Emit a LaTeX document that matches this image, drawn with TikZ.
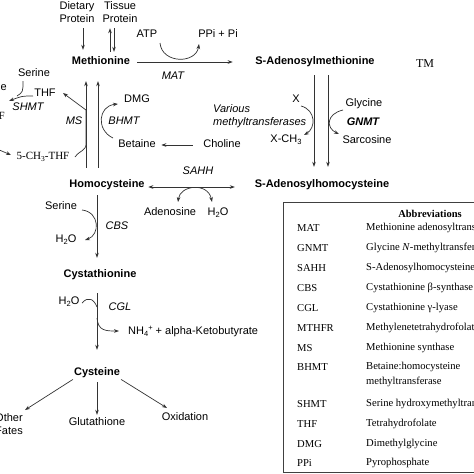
\documentclass[tikz,border=0pt]{standalone}
\usepackage{fontspec}
\setmainfont{Liberation Sans}
\newfontfamily\serifx{Liberation Serif}
\usetikzlibrary{arrows.meta}
\newcommand\lowx[1]{\raisebox{-0.35ex}{\fontsize{7.5}{8}\selectfont #1}}
\newcommand\highx[1]{\raisebox{0.7ex}{\fontsize{7.5}{8}\selectfont #1}}
\begin{document}
\begin{tikzpicture}[x=1pt,y=-1pt,
  lbl/.style={font=\fontsize{11}{13}\selectfont, inner sep=1pt, text height=8pt, text depth=2.5pt},
  two/.style={font=\fontsize{11}{13}\selectfont, inner sep=1pt, align=center},
  cpd/.style={lbl, font=\fontsize{11}{13}\selectfont\bfseries},
  enz/.style={lbl, font=\fontsize{11}{13}\selectfont\itshape},
  ser/.style={lbl, font=\serifx\fontsize{11}{13}\selectfont},
  ln/.style={line width=0.7pt, draw=black!80},
  arr/.style={ln, -{Stealth[length=5pt,width=3.6pt]}},
  darr/.style={ln, {Stealth[length=5pt,width=3.6pt]}-{Stealth[length=5pt,width=3.6pt]}},
  tab/.style={font=\serifx\fontsize{10.6}{12}\selectfont, inner sep=0pt, anchor=west},
]
\useasboundingbox (0,0) rectangle (474,474);

% nodes
\node[two] (diet) at (77,12) {Dietary\\Protein};
\node[two] (tis) at (120,12) {Tissue\\Protein};
\node[cpd] (met) at (101,62) {Methionine};
\node[lbl] (atp) at (147,35) {ATP};
\node[lbl] (ppi) at (218,35) {PPi + Pi};
\node[enz] (mat) at (173,77) {MAT};
\node[cpd] (sam) at (315,62) {S-Adenosylmethionine};
\node[font=\serifx\fontsize{12}{14}\selectfont] (tm) at (425,64) {TM};
\node[lbl] (x) at (296,100) {X};
\node[lbl] (xch) at (286,140) {X-CH\lowx{3}};
\node[two, align=left, anchor=west, font=\fontsize{11}{12.5}\selectfont\itshape] (var) at (212,116) {Various\\methyltransferases};
\node[lbl] (gly) at (364,104) {Glycine};
\node[lbl, font=\fontsize{11}{13}\selectfont\bfseries\itshape] (gnmt) at (363,123) {GNMT};
\node[lbl] (sar) at (367,141) {Sarcosine};
\node[cpd] (sah) at (322,185) {S-Adenosylhomocysteine};
\node[lbl] (cho) at (222,145) {Choline};
\node[lbl] (bet) at (137,145) {Betaine};
\node[lbl] (dmg) at (137,100) {DMG};
\node[enz] (bhmt) at (124,122) {BHMT};
\node[enz] (ms) at (74,122) {MS};
\node[lbl] (thf) at (45,94) {THF};
\node[lbl] (ser1) at (34,74) {Serine};
\node[enz] (shmt) at (28,108) {SHMT};
\node[ser] (mthf) at (43,157) {5-CH\lowx{3}-THF};
\node[lbl, anchor=east] (gly2) at (8,88) {Glycine};
\node[ser, anchor=east] (mthf2) at (6,117) {5,10-CH\lowx{2}-THF};
\node[cpd] (hcy) at (107,185) {Homocysteine};
\node[enz] (sahh) at (198,172) {SAHH};
\node[lbl] (ado) at (170,213) {Adenosine};
\node[lbl] (wa) at (218,213) {H\lowx{2}O};
\node[lbl] (ser2) at (61,207) {Serine};
\node[lbl] (wb) at (66,240) {H\lowx{2}O};
\node[enz] (cbs) at (117,227) {CBS};
\node[cpd] (cyst) at (100,275) {Cystathionine};
\node[lbl] (wc) at (69,302) {H\lowx{2}O};
\node[enz] (cgl) at (120,308) {CGL};
\node[lbl, anchor=west] (nh4) at (127,332) {NH\lowx{4}\highx{+} + alpha-Ketobutyrate};
\node[cpd] (cys) at (97,373) {Cysteine};
\node[two] (oth) at (9,424) {Other\\Fates};
\node[lbl] (glu) at (97,423) {Glutathione};
\node[lbl] (oxi) at (185,418) {Oxidation};

% node-to-node connectors
\draw[arr, shorten <=4.5pt, shorten >=5.75pt] ([xshift=6pt]diet.south) -- ([xshift=-18pt]met.north);
\draw[arr, shorten <=3.75pt, shorten >=4.5pt] ([xshift=9pt]met.north) -- ([xshift=-10pt]tis.south);
\draw[arr, shorten <=4.5pt, shorten >=3.75pt] ([xshift=-6pt]tis.south) -- ([xshift=13pt]met.north);
\draw[arr, shorten <=6pt, shorten >=21.5pt] (met.east) -- (sam.west);
\draw[arr, shorten <=6.75pt, shorten >=11.75pt] ([xshift=-1pt]sam.south) -- ([xshift=-8pt]sah.north);
\draw[arr, shorten <=6.75pt, shorten >=11.75pt] ([xshift=13pt]sam.south) -- ([xshift=6pt]sah.north);
\draw[arr, shorten <=9.5pt, shorten >=4.5pt] (cho.west) -- (bet.east);
\draw[arr, shorten <=10.75pt, shorten >=12.75pt] ([xshift=-21pt]hcy.north) -- ([xshift=-15pt]met.south);
\draw[arr, shorten <=10.75pt, shorten >=12.75pt] ([xshift=-9pt]hcy.north) -- ([xshift=-3pt]met.south);
\draw[darr, shorten <=2.5pt, shorten >=18.75pt] ([yshift=-2pt]hcy.east) -- ([yshift=-2pt]sah.west);
\draw[arr, shorten <=3.75pt, shorten >=10.75pt] ([xshift=-10pt]hcy.south) -- ([xshift=-3pt]cyst.north);
\draw[arr, shorten <=11.75pt, shorten >=16.75pt] ([xshift=-3pt]cyst.south) -- (cys.north);
\draw[arr, shorten <=2.75pt, shorten >=1.75pt] (cys.south) -- (glu.north);
\draw[arr] (cys.south west) -- (25,410);
\draw[arr] (cys.south east) -- (167,408);

% side reactions
\draw[arr] (160,43) .. controls (162,64) and (196,64) .. (199,44);
\draw[arr] (301,106) .. controls (316,110) and (316,128) .. (304,135);
\draw[arr] (343,110) .. controls (326,114) and (326,128) .. (339,134);
\draw[arr] (113,138) .. controls (96,130) and (98,106) .. (118,104);
\draw[arr] (75,157) .. controls (80,150) and (86,151) .. (86,144) -- (86,110) -- (63,93);
\draw[arr] (-10,146) -- (11,155);
\draw[arr] (33,96) .. controls (22,96) .. (9,101);
\draw[ln] (23,81) .. controls (23,92) .. (17,96);
\draw[darr] (178,202) .. controls (180,185) and (208,182) .. (212,202);
\draw[arr] (82,210) .. controls (100,212) and (100,235) .. (85,240);
\draw[ln] (82,303) .. controls (88,296) and (94,299) .. (97,307);
\draw[arr] (97,318) .. controls (98,331) and (106,331) .. (119,331);

% abbreviation table
\draw[line width=0.9pt, draw=black!75] (283,202) rectangle (490,472);
\node[font=\serifx\fontsize{10.5}{12}\selectfont\bfseries] (abh) at (430,214) {Abbreviations};
\node[tab] (a1) at (297,228) {MAT};   \node[tab] (b1) at (366,228) {Methionine adenosyltransferase};
\node[tab] (a2) at (297,248) {GNMT};  \node[tab] (b2) at (366,248) {Glycine \textit{N}-methyltransferase};
\node[tab] (a3) at (297,268) {SAHH};  \node[tab] (b3) at (366,268) {S-Adenosylhomocysteine hydrolase};
\node[tab] (a4) at (297,288) {CBS};   \node[tab] (b4) at (366,288) {Cystathionine β-synthase};
\node[tab] (a5) at (297,308) {CGL};   \node[tab] (b5) at (366,308) {Cystathionine γ-lyase};
\node[tab] (a6) at (297,328) {MTHFR}; \node[tab] (b6) at (366,328) {Methylenetetrahydrofolate reductase};
\node[tab] (a7) at (297,348) {MS};    \node[tab] (b7) at (366,348) {Methionine synthase};
\node[tab] (a8) at (297,367) {BHMT};  \node[tab] (b8) at (366,367) {Betaine:homocysteine};
\node[tab] (b8b) at (366,382) {methyltransferase};
\node[tab] (a9) at (297,404) {SHMT};  \node[tab] (b9) at (366,404) {Serine hydroxymethyltransferase};
\node[tab] (a10) at (297,424) {THF}; \node[tab] (b10) at (366,424) {Tetrahydrofolate};
\node[tab] (a11) at (297,444) {DMG}; \node[tab] (b11) at (366,444) {Dimethylglycine};
\node[tab] (a12) at (297,463) {PPi}; \node[tab] (b12) at (366,463) {Pyrophosphate};
\end{tikzpicture}
\end{document}
